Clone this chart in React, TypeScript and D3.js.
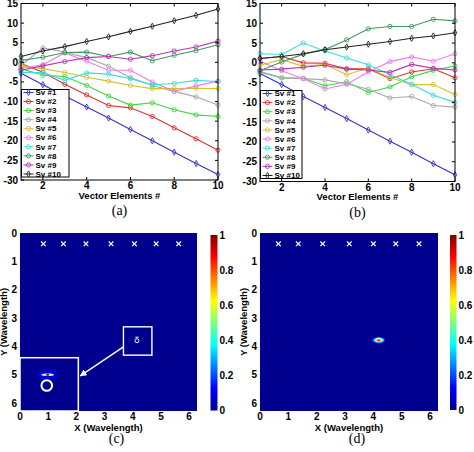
import * as d3 from "d3";

// x positions shared by all curves
const vectorElements = [1, 2, 3, 4, 5, 6, 7, 8, 9, 10];
const seriesNames = ["Sv #1", "Sv #2", "Sv #3", "Sv #4", "Sv #5", "Sv #6", "Sv #7", "Sv #8", "Sv #9", "Sv #10"];
const seriesColors = ["#3434c8", "#e0302c", "#3ad83a", "#a8a8a8", "#d2c22c", "#f07cf0", "#38dcdc", "#3f9a5e", "#b436b4", "#222222"];
const yTicks = [-30, -25, -20, -15, -10, -5, 0, 5, 10, 15];
const xTicks = [2, 4, 6, 8, 10];

// panel (a)
const sv1A = [-2.8, -5.7, -8.6, -11.4, -14.2, -17.1, -20.0, -22.9, -25.8, -28.6];
const sv2A = [-0.3, -2.5, -5.6, -8.3, -11.0, -11.6, -13.8, -16.7, -19.5, -22.4];
const sv3A = [-1.6, -3.3, -3.6, -5.9, -8.6, -10.9, -10.3, -12.1, -13.4, -13.8];
const sv4A = [-0.8, 3.7, 2.6, 1.2, -1.0, -3.9, -5.9, -7.4, -8.8, -10.9];
const sv5A = [-1.0, -1.6, -2.6, -3.8, -4.8, -5.9, -6.7, -6.7, -6.6, -6.7];
const sv6A = [-1.5, -0.6, 2.4, 0.3, -2.0, -2.0, -5.0, -7.4, -6.0, -4.8];
const sv7A = [-2.6, -2.6, -4.6, -2.7, -3.0, -4.2, -5.7, -5.4, -4.6, -4.9];
const sv8A = [0.5, 1.3, 2.5, 2.6, 1.5, 2.6, 0.4, 1.8, 3.0, 4.5];
const sv9A = [-2.0, -0.9, 0.2, 1.2, 1.5, 0.8, 1.7, 2.9, 3.9, 5.4];
const sv10A = [1.5, 2.9, 4.0, 5.3, 6.5, 7.9, 9.2, 10.6, 12.0, 13.6];

// panel (b)
const sv1B = [-2.7, -5.5, -8.5, -11.3, -14.1, -17.0, -19.8, -22.6, -25.5, -28.3];
const sv2B = [1.1, 1.6, 0.0, -0.1, -1.5, -1.5, -4.0, -2.3, -1.5, -3.8];
const sv3B = [-2.4, -3.8, -3.9, -5.8, -4.8, -7.5, -6.1, -3.5, -1.9, -0.8];
const sv4B = [-2.2, -3.8, -4.0, -4.3, -5.3, -6.7, -8.9, -8.5, -10.8, -11.2];
const sv5B = [-0.6, 0.8, -0.9, -0.4, -3.0, -1.3, -3.7, -5.5, -5.5, -8.0];
const sv6B = [0.4, -2.0, -4.0, -6.6, -5.4, -2.3, 0.3, 1.5, 0.4, 2.3];
const sv7B = [2.3, 2.1, 5.0, 3.0, 1.2, -0.5, -3.0, -5.4, -8.2, -10.0];
const sv8B = [-2.0, 0.2, 2.2, 3.4, 5.8, 8.6, 9.2, 9.2, 11.0, 10.6];
const sv9B = [-1.8, -1.6, -1.1, -0.6, -1.6, -1.8, -2.4, -0.4, -1.4, -1.8];
const sv10B = [1.1, 1.6, 2.3, 3.3, 4.0, 4.7, 5.4, 6.2, 6.8, 7.6];

// maps (c) and (d)
const regionSize = 6.28;
const mapTicks = [0, 1, 2, 3, 4, 5, 6];
const elementXC = [0.83, 1.54, 2.34, 3.23, 4.06, 4.83, 5.63];
const elementXD = [0.65, 1.35, 2.21, 3.15, 4.0, 4.79, 5.61];
const elementDepth = 0.38;
const targetC = [4.15, 3.8];
const zoomBoxC = [3.67, 4.68, 3.31, 4.31];
const insetBoxC = [0, 2.07, 4.4, 6.28];
const insetTargetC = [0.95, 5.38];
const insetPeakC = [0.98, 5.0];
const arrowC = [3.67, 4.02, 2.14, 5.04];
const peakD = [4.19, 3.78];
const peakLevels = [0.15, 0.35, 0.55, 0.75, 0.95];
const barTicks = [0, 0.2, 0.4, 0.6, 0.8, 1];
const barLabels = ["0", "0.2", "0.4", "0.6", "0.8", "1"];

const jetStops = [0, 0.125, 0.375, 0.625, 0.875, 1];
const jetColors = ["#00008f", "#0000ff", "#00ffff", "#ffff00", "#ff0000", "#800000"];
const jet = d3.scaleLinear<string>().domain(jetStops).range(jetColors);

const sans = "'Liberation Sans', Arial, sans-serif";
const serif = "'Liberation Serif', 'Times New Roman', serif";

type Box = { left: number; right: number; top: number; bottom: number };

function LinePanel({ series, box, legend, caption }: { series: number[][]; box: Box; legend: Box; caption: string }) {
  const x = d3.scaleLinear().domain([1, 10]).range([box.left, box.right]);
  const y = d3.scaleLinear().domain([-30, 15]).range([box.bottom, box.top]);
  const line = d3
    .line<number>()
    .x((_, i) => x(vectorElements[i]))
    .y((d) => y(d));
  const diamond = d3.symbol().type(d3.symbolDiamond).size(11)()!;
  const rowGap = (legend.bottom - legend.top - 6) / (seriesNames.length - 1);
  const marker = (i: number, cx: number, cy: number, key: string) =>
    i === 0 || i === 9 ? (
      <path key={key} d={diamond} transform={`translate(${cx},${cy})`} fill="none" stroke={seriesColors[i]} strokeWidth={0.9} />
    ) : (
      <circle key={key} cx={cx} cy={cy} r={2.1} fill="none" stroke={seriesColors[i]} strokeWidth={0.9} />
    );
  const mid = (box.left + box.right) / 2;
  return (
    <g>
      {series.map((s, i) => (
        <g key={i}>
          <path d={line(s)!} fill="none" stroke={seriesColors[i]} strokeWidth={1.1} />
          {s.map((v, j) => marker(i, x(vectorElements[j]), y(v), `m${j}`))}
        </g>
      ))}
      <rect x={box.left} y={box.top} width={box.right - box.left} height={box.bottom - box.top} fill="none" stroke="#000" strokeWidth={1} />
      {yTicks.map((t) => (
        <g key={t}>
          <line x1={box.left} x2={box.left + 3} y1={y(t)} y2={y(t)} stroke="#000" />
          <line x1={box.right} x2={box.right - 3} y1={y(t)} y2={y(t)} stroke="#000" />
          <text x={box.left - 3} y={y(t) + 3.5} textAnchor="end" fontSize={10} fontWeight="bold" fontFamily={sans}>
            {t}
          </text>
        </g>
      ))}
      {xTicks.map((t) => (
        <g key={t}>
          <line x1={x(t)} x2={x(t)} y1={box.bottom} y2={box.bottom - 3} stroke="#000" />
          <line x1={x(t)} x2={x(t)} y1={box.top} y2={box.top + 3} stroke="#000" />
          <text x={x(t)} y={box.bottom + 9} textAnchor="middle" fontSize={10} fontWeight="bold" fontFamily={sans}>
            {t}
          </text>
        </g>
      ))}
      <text x={mid} y={box.bottom + 18.5} textAnchor="middle" fontSize={9.5} fontWeight="bold" fontFamily={sans}>
        Vector Elements #
      </text>
      <text x={mid} y={box.bottom + 35} textAnchor="middle" fontSize={14} fontFamily={serif}>
        {caption}
      </text>
      <rect x={legend.left} y={legend.top} width={legend.right - legend.left} height={legend.bottom - legend.top} fill="#fff" stroke="#000" strokeWidth={1} />
      {seriesNames.map((name, i) => {
        const ry = legend.top + 3 + i * rowGap;
        return (
          <g key={name}>
            <line x1={legend.left + 2} x2={legend.left + 12} y1={ry} y2={ry} stroke={seriesColors[i]} strokeWidth={1} />
            {marker(i, legend.left + 7, ry, "lm")}
            <text x={legend.left + 14} y={ry + 2.7} fontSize={8} fontWeight="bold" fontFamily={sans}>
              {name}
            </text>
          </g>
        );
      })}
    </g>
  );
}

type Scales = { x: d3.ScaleLinear<number, number>; y: d3.ScaleLinear<number, number> };

function MapPanel({
  box,
  bar,
  elementX,
  caption,
  gradId,
  extras,
}: {
  box: Box;
  bar: Box;
  elementX: number[];
  caption: string;
  gradId: string;
  extras: (s: Scales) => JSX.Element;
}) {
  const x = d3.scaleLinear().domain([0, regionSize]).range([box.left, box.right]);
  const y = d3.scaleLinear().domain([0, regionSize]).range([box.top, box.bottom]);
  const c = d3.scaleLinear().domain([0, 1]).range([bar.bottom, bar.top]);
  const mid = (box.left + box.right) / 2;
  return (
    <g>
      <defs>
        <linearGradient id={gradId} x1="0" y1="1" x2="0" y2="0">
          {jetStops.map((s, i) => (
            <stop key={s} offset={s} stopColor={jetColors[i]} />
          ))}
        </linearGradient>
      </defs>
      <rect x={box.left} y={box.top} width={box.right - box.left} height={box.bottom - box.top} fill={jet(0)} />
      {extras({ x, y })}
      {elementX.map((ex, i) => {
        const cx = x(ex);
        const cy = y(elementDepth);
        return (
          <path key={i} d={`M${cx - 2.3},${cy - 2.3}L${cx + 2.3},${cy + 2.3}M${cx - 2.3},${cy + 2.3}L${cx + 2.3},${cy - 2.3}`} stroke="#fff" strokeWidth={1.2} />
        );
      })}
      {mapTicks.map((t) => (
        <g key={t}>
          <text x={x(t)} y={box.bottom + 9} textAnchor="middle" fontSize={10} fontWeight="bold" fontFamily={sans}>
            {t}
          </text>
          <text x={box.left - 3} y={y(t) + 3.5} textAnchor="end" fontSize={10} fontWeight="bold" fontFamily={sans}>
            {t}
          </text>
        </g>
      ))}
      <text x={mid} y={box.bottom + 19.5} textAnchor="middle" fontSize={9.5} fontWeight="bold" fontFamily={sans}>
        X (Wavelength)
      </text>
      <text
        transform={`translate(${box.left - 13},${(box.top + box.bottom) / 2}) rotate(-90)`}
        textAnchor="middle"
        fontSize={9.5}
        fontWeight="bold"
        fontFamily={sans}
      >
        Y (Wavelength)
      </text>
      <text x={mid + 8} y={box.bottom + 32} textAnchor="middle" fontSize={14} fontFamily={serif}>
        {caption}
      </text>
      <rect x={bar.left} y={bar.top} width={bar.right - bar.left} height={bar.bottom - bar.top} fill={`url(#${gradId})`} />
      {barTicks.map((t, i) => (
        <text key={t} x={bar.right + 2} y={c(t) + 3.5} fontSize={10} fontWeight="bold" fontFamily={sans}>
          {barLabels[i]}
        </text>
      ))}
    </g>
  );
}

// concentric level ellipses around a focal spot
function Peak({ cx, cy, rx, ry }: { cx: number; cy: number; rx: number; ry: number }) {
  return (
    <g filter="url(#soft)">
      {peakLevels.map((lv) => (
        <ellipse key={lv} cx={cx} cy={cy} rx={rx * (1.1 - lv)} ry={ry * (1.1 - lv)} fill={jet(lv)} />
      ))}
    </g>
  );
}

export default function App() {
  const seriesA = [sv1A, sv2A, sv3A, sv4A, sv5A, sv6A, sv7A, sv8A, sv9A, sv10A];
  const seriesB = [sv1B, sv2B, sv3B, sv4B, sv5B, sv6B, sv7B, sv8B, sv9B, sv10B];
  return (
    <svg width={474} height={452} style={{ position: "absolute", left: 0, top: 0, background: "#fff" }}>
      <defs>
        <filter id="soft" x="-50%" y="-50%" width="200%" height="200%">
          <feGaussianBlur stdDeviation={0.6} />
        </filter>
        <marker id="arrowhead" viewBox="0 0 10 10" refX="9" refY="5" markerWidth="5" markerHeight="5" orient="auto">
          <path d="M0,0L10,5L0,10z" fill="#fff" />
        </marker>
      </defs>
      <LinePanel series={seriesA} box={{ left: 21, right: 218, top: 3.5, bottom: 180 }} legend={{ left: 21.5, right: 69, top: 89.5, bottom: 177 }} caption="(a)" />
      <LinePanel series={seriesB} box={{ left: 260, right: 455, top: 3.5, bottom: 181.5 }} legend={{ left: 260.5, right: 302, top: 90.5, bottom: 178.5 }} caption="(b)" />
      <MapPanel
        box={{ left: 20, right: 197, top: 233, bottom: 411 }}
        bar={{ left: 210.5, right: 217.5, top: 235, bottom: 410.5 }}
        elementX={elementXC}
        caption="(c)"
        gradId="jet-c"
        extras={({ x, y }) => (
          <g>
            <ellipse cx={x(targetC[0])} cy={y(targetC[1]) - 3.4} rx={2} ry={0.8} fill="#9fd0ff" />
            <circle cx={x(targetC[0])} cy={y(targetC[1])} r={2} fill="none" stroke="#fff" strokeWidth={1} />
            <rect x={x(zoomBoxC[0])} y={y(zoomBoxC[2])} width={x(zoomBoxC[1]) - x(zoomBoxC[0])} height={y(zoomBoxC[3]) - y(zoomBoxC[2])} fill="none" stroke="#fff" strokeWidth={1.4} />
            <line x1={x(arrowC[0])} y1={y(arrowC[1])} x2={x(arrowC[2])} y2={y(arrowC[3])} stroke="#fff" strokeWidth={1.4} markerEnd="url(#arrowhead)" />
            <rect x={x(insetBoxC[0])} y={y(insetBoxC[2])} width={x(insetBoxC[1]) - x(insetBoxC[0])} height={y(insetBoxC[3]) - y(insetBoxC[2])} fill={jet(0)} stroke="#fff" strokeWidth={1.5} />
            <ellipse cx={x(insetPeakC[0])} cy={y(insetPeakC[1])} rx={11} ry={5} fill={jet(0.07)} filter="url(#soft)" />
            <ellipse cx={x(insetPeakC[0])} cy={y(insetPeakC[1])} rx={6.5} ry={1.4} fill="#b8e4ff" />
            <ellipse cx={x(insetPeakC[0])} cy={y(insetPeakC[1])} rx={1.6} ry={1.4} fill={jet(0.9)} />
            <circle cx={x(insetTargetC[0])} cy={y(insetTargetC[1])} r={5.3} fill="none" stroke="#fff" strokeWidth={2} />
          </g>
        )}
      />
      <MapPanel
        box={{ left: 260, right: 438, top: 233, bottom: 411 }}
        bar={{ left: 450, right: 456.5, top: 235, bottom: 410 }}
        elementX={elementXD}
        caption="(d)"
        gradId="jet-d"
        extras={({ x, y }) => (
          <g>
            <Peak cx={x(peakD[0])} cy={y(peakD[1])} rx={7} ry={3.4} />
            <path d={`M${x(peakD[0]) - 2.3},${y(peakD[1])}a2.3,2.1 0 0 1 4.6,0`} fill="none" stroke="#fff" strokeWidth={1} />
          </g>
        )}
      />
    </svg>
  );
}
